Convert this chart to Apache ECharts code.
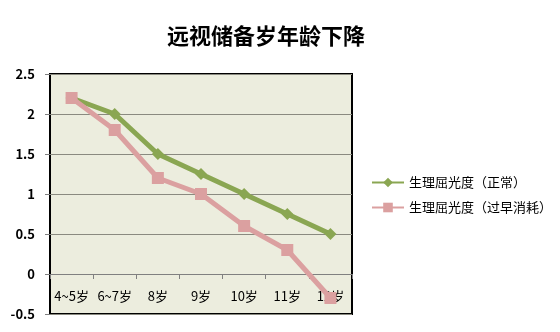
<!DOCTYPE html>
<html><head><meta charset="utf-8">
<script src="https://cdn.jsdelivr.net/npm/echarts@6/dist/echarts.min.js"></script>
<style>html,body{margin:0;padding:0;background:#fff}#c{width:560px;height:332px}</style>
</head><body><div id="c"></div>
<script>
const categories = ['4~5岁','6~7岁','8岁','9岁','10岁','11岁','12岁'];
const normalValues = [2.2, 2, 1.5, 1.25, 1, 0.75, 0.5];
const earlyValues = [2.2, 1.8, 1.2, 1, 0.6, 0.3, -0.3];
const seriesNames = ['生理屈光度（正常）','生理屈光度（过早消耗）'];
const titleText = '远视储备岁年龄下降';

const font = '"Noto Sans CJK SC", sans-serif';
const chart = echarts.init(document.getElementById('c'));
chart.setOption({
  animation: false,
  backgroundColor: '#fff',
  title: {
    text: titleText, left: 162, top: 20,
    textStyle: {fontFamily: font, fontSize: 22, fontWeight: 'bold', color: '#000'}
  },
  legend: {
    orient: 'vertical', left: 366, top: 171, itemWidth: 32, itemHeight: 12, itemGap: 12,
    textStyle: {fontFamily: font, fontSize: 13, color: '#000'},
    data: seriesNames
  },
  grid: {
    left: 50, right: 208, top: 74, bottom: 18, show: true,
    outerBoundsMode: 'none', containLabel: false,
    backgroundColor: '#ecedde', borderColor: '#000', borderWidth: 2
  },
  xAxis: {
    type: 'category', data: categories, position: 'bottom', offset: -40,
    axisLine: {onZero: false, lineStyle: {color: '#808080', width: 1}},
    axisTick: {show: true, length: 5, inside: false, lineStyle: {color: '#808080'}},
    axisLabel: {color: '#000', fontFamily: font, fontSize: 13, margin: 16, interval: 0}
  },
  yAxis: {
    type: 'value', min: -0.5, max: 2.5, interval: 0.5,
    axisLine: {show: false},
    axisTick: {show: true, length: 5, lineStyle: {color: '#808080'}},
    splitLine: {show: true, lineStyle: {color: '#8a8a80', width: 1}},
    axisLabel: {color: '#000', fontFamily: font, fontSize: 13, fontWeight: 'bold', margin: 15}
  },
  series: [
    {
      name: seriesNames[0], type: 'line', data: normalValues,
      symbol: 'diamond', symbolSize: 12,
      lineStyle: {color: '#8aa652', width: 5},
      itemStyle: {color: '#8aa652'}, z: 3
    },
    {
      name: seriesNames[1], type: 'line', data: earlyValues,
      symbol: 'rect', symbolSize: 12,
      lineStyle: {color: '#dba0a0', width: 5},
      itemStyle: {color: '#dba0a0'}, z: 4
    }
  ]
});
</script></body></html>
